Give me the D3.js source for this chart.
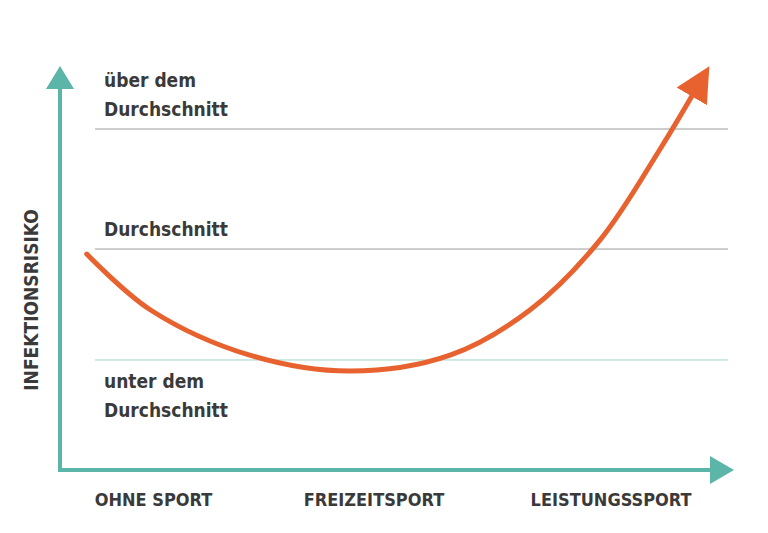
<!DOCTYPE html>
<html><head><meta charset="utf-8">
<script src="https://cdn.jsdelivr.net/npm/d3@7"></script>
<style>body{margin:0;background:#fff}text{font-family:"DejaVu Sans Condensed","Open Sans",sans-serif;font-weight:bold;fill:#3a3a3a}</style>
</head><body><svg id="c" width="768" height="533"></svg>
<script>
const categories = ["OHNE SPORT", "FREIZEITSPORT", "LEISTUNGSSPORT"];
const categoryPos = [0.14, 0.47, 0.825];
const levels = [
  {v: 3.0, label: ["über dem", "Durchschnitt"]},
  {v: 1.944, label: ["Durchschnitt"]},
  {v: 0.968, label: ["unter dem", "Durchschnitt"]}
];
const curveX = [0.040, 0.135, 0.284, 0.434, 0.584, 0.704, 0.808, 0.898, 0.951];
const curveY = [1.90, 1.41, 1.01, 0.87, 1.01, 1.41, 2.02, 2.82, 3.34];

const teal = "#5bb5a8", orange = "#e8622f";
const svg = d3.select("#c");
const x = d3.scaleLinear().domain([0, 1]).range([60, 728]);
const y = d3.scaleLinear().domain([0, 3]).range([470, 129]);

const defs = svg.append("defs");
defs.append("marker").attr("id", "ah").attr("viewBox", "0 0 10 10").attr("refX", 2).attr("refY", 5)
  .attr("markerWidth", 7).attr("markerHeight", 7).attr("markerUnits", "strokeWidth").attr("orient", "auto")
  .append("path").attr("d", "M0,0L10,5L0,10Z").attr("fill", orange);

// grid lines
svg.selectAll(".grid").data(levels).join("line")
  .attr("x1", 95).attr("x2", 728)
  .attr("y1", d => y(d.v)).attr("y2", d => y(d.v))
  .attr("stroke", (d, i) => i === 2 ? "#9fd3cb" : "#9a9a9a").attr("stroke-width", 1);

// level labels
levels.forEach((d, i) => {
  const t = svg.append("text").attr("x", 104).attr("font-size", 19);
  d.label.forEach((s, j) => {
    let base = i === 2 ? y(d.v) + 28 : y(d.v) - 13 - (d.label.length - 1 - j) * 29;
    t.append("tspan").attr("x", 104).attr("y", base + (i === 2 ? j * 29 : 0)).text(s);
  });
});

// axes
svg.append("line").attr("x1", 60).attr("x2", 60).attr("y1", 472).attr("y2", 85).attr("stroke", teal).attr("stroke-width", 4);
svg.append("line").attr("x1", 58).attr("x2", 715).attr("y1", 470).attr("y2", 470).attr("stroke", teal).attr("stroke-width", 4);
svg.append("path").attr("d", "M60,66L74,89L46,89Z").attr("fill", teal);
svg.append("path").attr("d", "M734,470L710,456L710,484Z").attr("fill", teal);

svg.append("text").attr("transform", "translate(38,300) rotate(-90)").attr("text-anchor", "middle")
  .attr("font-size", 19).text("INFEKTIONSRISIKO");

svg.selectAll(".cat").data(categories).join("text")
  .attr("x", (d, i) => x(categoryPos[i])).attr("y", 506).attr("text-anchor", "middle")
  .attr("font-size", 18).text(d => d);

// curve
const pts = curveX.map((v, i) => [x(v), y(curveY[i])]);
svg.append("path").attr("d", d3.line().curve(d3.curveCatmullRom)(pts))
  .attr("fill", "none").attr("stroke", orange).attr("stroke-width", 5).attr("stroke-linecap", "round")
  .attr("marker-end", "url(#ah)");
</script></body></html>
